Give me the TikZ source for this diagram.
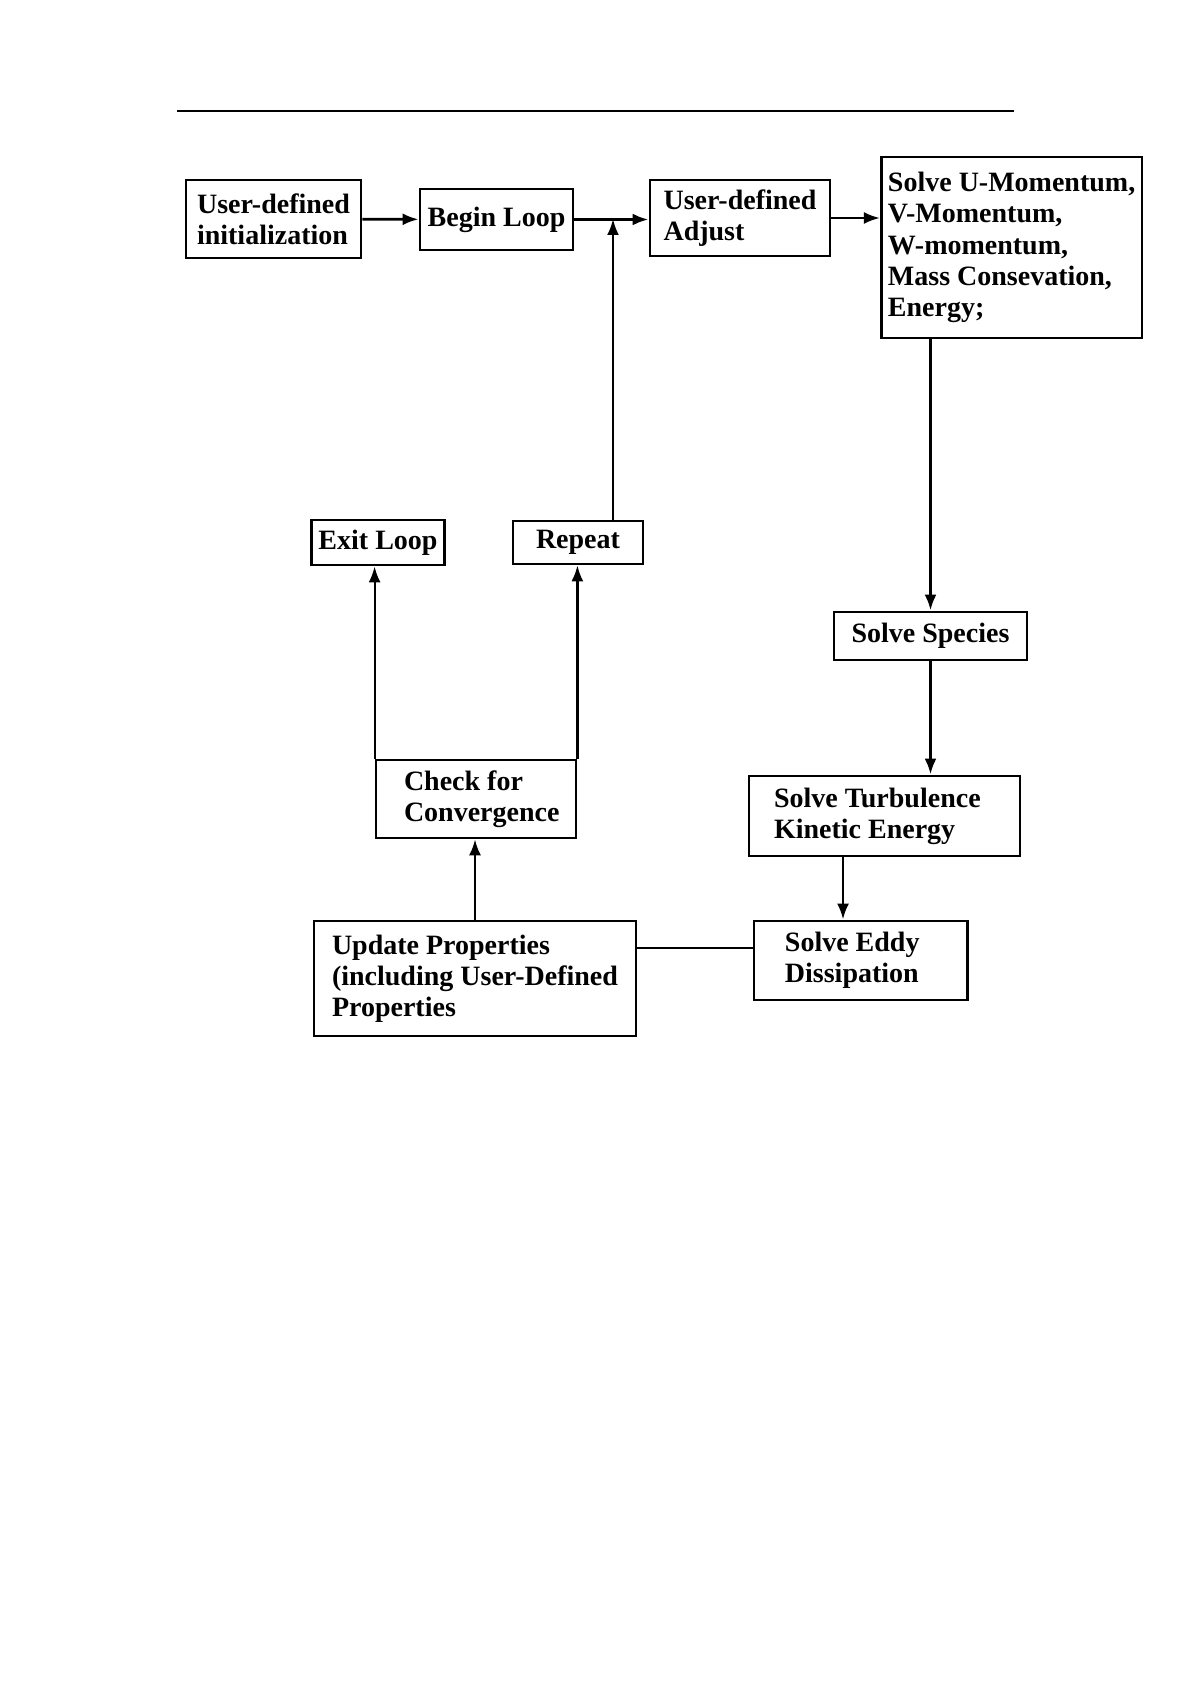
\documentclass[tikz,border=0pt]{standalone}
\usepackage{fontspec}
\setmainfont{Liberation Serif}
\usetikzlibrary{arrows.meta}

\begin{document}
\begin{tikzpicture}[x=0.5pt,y=-0.5pt,
  every node/.style={font=\bfseries\fontsize{14}{15.6}\selectfont},
  blk/.style={draw,rectangle,line width=1.4pt,align=flush left,inner ysep=0pt},
  arr/.style={-{Latex[length=8pt,width=6pt]}}]
\useasboundingbox[fill=white] (0,0) rectangle (1191,1685);
\draw [line width=0.7pt] (177,111) -- (1014,111);

\node [blk,minimum width=87.5pt,minimum height=39pt] (init) at(273.5,219){User-defined\\initialization};
\node [blk,minimum width=76.5pt,minimum height=30.5pt] (begin) at(496.5,219.5){Begin Loop};
\node [blk,minimum width=90pt,minimum height=38pt] (adjust) at(740,218){User-defined\\Adjust};
\node [blk,minimum width=130pt,minimum height=90.5pt] (mom) at(1011.6,247.5){Solve U-Momentum,\\V-Momentum,\\W-momentum,\\Mass Consevation,\\Energy;};

\node [blk,minimum width=66pt,minimum height=22.5pt] (exitl) at(378,542.5){Exit Loop};
\node [blk,minimum width=65pt,minimum height=21.5pt] (rep) at(578,542.5){Repeat};
\node [blk,minimum width=96.5pt,minimum height=24pt] (spec) at(930.5,636){Solve Species};

\node [blk,text width=72pt,inner xsep=14pt,minimum height=39pt] (check) at(476,799){Check for\\Convergence};
\node [blk,text width=110.5pt,inner xsep=12.5pt,minimum height=40pt] (turb) at(884.5,816){Solve Turbulence\\Kinetic Energy};

\node [blk,minimum width=161pt,minimum height=57.5pt] (upd) at(475,978.5){Update Properties\\(including User-Defined\\Properties};
\node [blk,text width=75.75pt,inner xsep=15.5pt,minimum height=39.5pt] (eddy) at(860.7,960.5){Solve Eddy\\Dissipation};

%\coordinate points for the joins
\coordinate (jn) at(613,219);
\coordinate (te) at([xshift=-20.75pt]turb.south);
\coordinate (lk) at(700,948);

\draw[line width=1.4pt,arr](init) -- (begin);
\draw[line width=1.6pt,arr](begin.east) -- (begin.east -| adjust.west);
\draw[line width=1.2pt,arr](jn |- rep.north) -- (jn);
\draw[line width=1.2pt,arr](adjust.east) -- (adjust.east -| mom.west);
\draw[line width=1.6pt,arr](spec.north |- mom.south) -- (spec.north);
\draw[line width=1.6pt,arr](spec.south) -- (spec.south |- turb.north);
\draw[line width=1.4pt,arr](te) -- (te |- eddy.north);
\draw[line width=1.2pt](lk -| upd.east) -- (lk -| eddy.west);
\draw[line width=1.1pt,arr](upd.north) -- (upd.north |- check.south);
\draw[line width=1.1pt,arr](check.north west) -- (check.north west |- exitl.south);
\draw[line width=1.1pt,arr](check.north east) -- (check.north east |- rep.south);

\end{tikzpicture}
\end{document}
